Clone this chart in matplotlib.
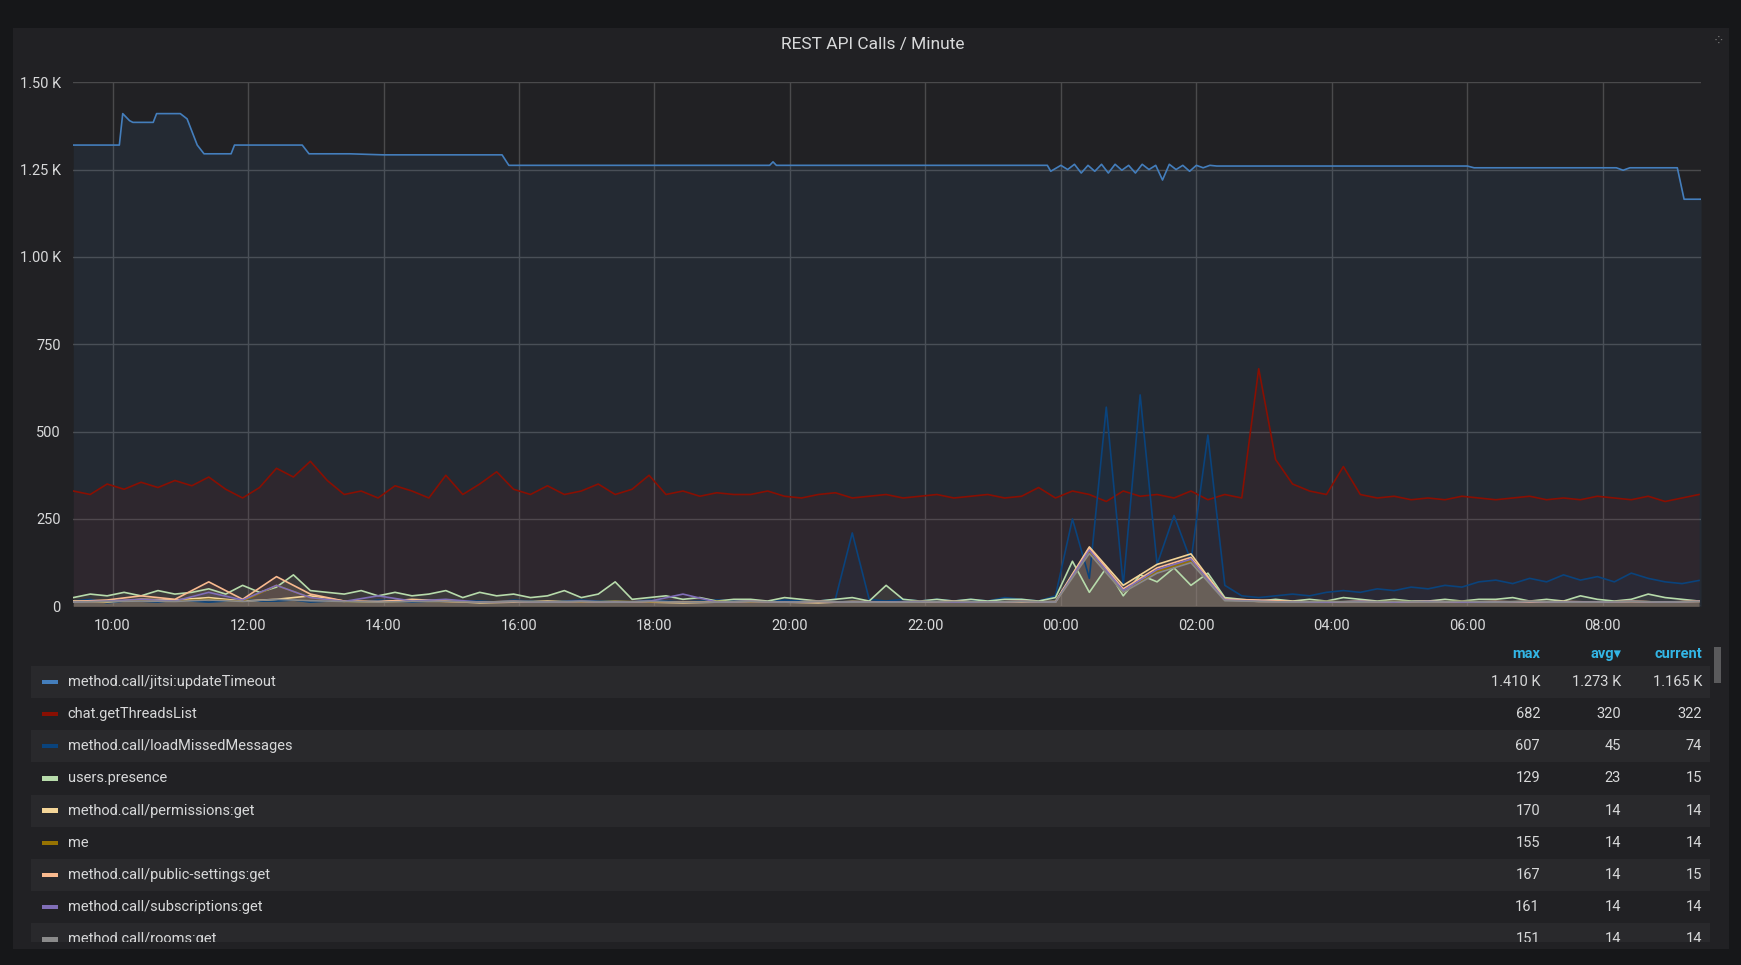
import numpy as np
import matplotlib
matplotlib.use("Agg")
import matplotlib.pyplot as plt
from matplotlib.patches import Rectangle

plt.rcParams['font.family'] = ['Roboto', 'DejaVu Sans']

T0, T1 = 9.42, 33.45

# main series (breakpoint times in hours, values)
jitsi_t = [9.42, 10.1, 10.15, 10.25, 10.3, 10.6, 10.65, 11.0, 11.1, 11.25, 11.35, 11.75, 11.8, 12.8, 12.9, 13.5, 14.0, 15.75, 15.85,
           19.7, 19.75, 19.8, 23.8, 23.85, 24.0, 24.1, 24.2, 24.3, 24.4, 24.5, 24.6, 24.7, 24.8, 24.9, 25.0, 25.1, 25.2, 25.3, 25.4,
           25.5, 25.6, 25.7, 25.8, 25.9, 26.0, 26.1, 26.2, 26.3, 30.0, 30.1, 32.2, 32.3, 32.4, 33.1, 33.2, 33.45]
jitsi_v = [1320, 1320, 1410, 1390, 1385, 1385, 1410, 1410, 1395, 1320, 1295, 1295, 1320, 1320, 1295, 1295, 1292, 1292, 1262,
           1262, 1272, 1262, 1262, 1245, 1262, 1250, 1265, 1240, 1262, 1245, 1265, 1240, 1265, 1248, 1262, 1240, 1265, 1250, 1262,
           1220, 1265, 1250, 1262, 1245, 1262, 1255, 1262, 1260, 1260, 1255, 1255, 1248, 1255, 1255, 1165, 1165]

red = [330, 320, 350, 335, 355, 340, 360, 345, 370, 335, 310, 340, 395, 370, 415, 360,
       320, 330, 310, 345, 330, 310, 375, 320, 350, 385, 335, 320, 345, 320, 330, 350,
       320, 335, 375, 320, 330, 315, 325, 320, 320, 330, 315, 310, 320, 325, 310, 315,
       320, 310, 315, 320, 310, 315, 320, 310, 315, 340, 310, 330, 320, 300, 330, 315,
       320, 310, 330, 305, 320, 310, 680, 420, 350, 330, 320, 400, 320, 310, 315, 305,
       310, 305, 315, 310, 305, 310, 315, 305, 310, 305, 315, 310, 305, 315, 300, 310, 320]

missed = [15, 20, 10, 15, 15, 12, 18, 15, 12, 15, 20, 15, 15, 18, 12, 15,
          15, 12, 18, 15, 12, 15, 18, 15, 15, 12, 18, 15, 12, 15, 18, 15,
          15, 12, 18, 15, 12, 15, 18, 15, 15, 12, 18, 15, 15, 20, 210, 20,
          15, 20, 15, 20, 15, 20, 15, 25, 20, 15, 30, 250, 80, 570, 60, 605,
          120, 260, 130, 490, 60, 30, 25, 30, 35, 30, 40, 45, 40, 50, 45, 55,
          50, 60, 55, 70, 75, 65, 80, 70, 90, 75, 85, 70, 95, 80, 70, 65, 74]

presence = [25, 35, 30, 40, 30, 45, 35, 40, 50, 35, 60, 40, 55, 90, 45, 40,
            35, 45, 30, 40, 30, 35, 45, 25, 40, 30, 35, 25, 30, 45, 25, 35,
            70, 20, 25, 30, 20, 25, 15, 20, 20, 15, 25, 20, 15, 20, 25, 15,
            60, 20, 15, 20, 15, 20, 15, 20, 20, 15, 25, 129, 40, 110, 30, 90,
            70, 110, 60, 95, 25, 20, 15, 20, 15, 20, 15, 25, 20, 15, 20, 15,
            15, 20, 15, 20, 20, 25, 15, 20, 15, 30, 20, 15, 20, 35, 25, 20, 15]

perm = [15, 12, 20, 18, 25, 15, 20, 30, 15, 12, 20, 15, 10, 12, 15, 12, 14, 12, 10, 12, 14, 12, 10, 14, 12,
        12, 14, 12, 12, 14, 170, 60, 120, 150, 20, 14, 12, 12, 14, 12, 14, 12, 12, 14, 12, 12, 14, 12, 14]
me = [12, 14, 18, 15, 20, 14, 60, 25, 14, 12, 15, 14, 12, 14, 12, 12, 14, 12, 12, 14, 12, 12, 14, 12, 12,
      14, 12, 12, 14, 12, 155, 40, 100, 130, 18, 14, 12, 14, 12, 14, 12, 14, 12, 14, 12, 12, 14, 12, 14]
pubset = [14, 18, 30, 20, 70, 20, 85, 35, 15, 14, 18, 14, 12, 14, 12, 14, 12, 14, 12, 12, 14, 12, 14, 12, 12,
          12, 14, 12, 14, 12, 167, 50, 110, 140, 20, 18, 14, 12, 14, 12, 14, 12, 14, 12, 14, 12, 14, 12, 15]
subs = [12, 15, 20, 15, 40, 18, 60, 25, 14, 30, 15, 20, 12, 14, 12, 14, 12, 14, 35, 12, 14, 12, 14, 12, 12,
        14, 12, 12, 14, 12, 161, 45, 105, 135, 18, 14, 12, 12, 14, 12, 14, 12, 12, 14, 12, 12, 14, 12, 14]
rooms = [12, 14, 15, 14, 18, 14, 20, 16, 14, 12, 14, 14, 12, 14, 12, 14, 12, 14, 12, 12, 14, 12, 14, 12, 12,
         12, 14, 12, 14, 12, 151, 40, 95, 125, 16, 14, 12, 14, 12, 14, 12, 14, 12, 14, 12, 12, 14, 12, 14]

names = ["method.call/jitsi:updateTimeout", "chat.getThreadsList", "method.call/loadMissedMessages",
         "users.presence", "method.call/permissions:get", "me", "method.call/public-settings:get",
         "method.call/subscriptions:get", "method.call/rooms:get"]
colors = ["#447EBC", "#890F02", "#0A437C", "#B7DBAB", "#F4D598", "#967302", "#F9BA8F", "#806EB7", "#8a8a8a"]
col_max = ["1.410 K", "682", "607", "129", "170", "155", "167", "161", "151"]
col_avg = ["1.273 K", "320", "45", "23", "14", "14", "14", "14", "14"]
col_cur = ["1.165 K", "322", "74", "15", "14", "14", "15", "14", "14"]
xticks = [10, 12, 14, 16, 18, 20, 22, 24, 26, 28, 30, 32]
xlabels = ["10:00", "12:00", "14:00", "16:00", "18:00", "20:00", "22:00", "00:00", "02:00", "04:00", "06:00", "08:00"]
yticks = [0, 250, 500, 750, 1000, 1250, 1500]
ylabels = ["0", "250", "500", "750", "1.00 K", "1.25 K", "1.50 K"]

W, H = 1568, 869
fig = plt.figure(figsize=(17.41, 9.65), dpi=100)
fig.patch.set_facecolor("#161719")
fx = lambda x: x / W
fy = lambda y: 1 - y / H
fig.patches.append(Rectangle((fx(12), fy(855)), fx(1545), 830 / H, transform=fig.transFigure,
                             facecolor="#212124", edgecolor="none", zorder=0))

ax = fig.add_axes([fx(66), fy(546), fx(1532 - 66), (546 - 74) / H])
ax.set_zorder(5)
ax.set_facecolor("#212124")
for s in ax.spines.values():
    s.set_visible(False)

def grid_t(n):
    return T0 + 24.0 * np.arange(n) / (n - 1)

series = [(jitsi_t, jitsi_v), (grid_t(len(red)), red), (grid_t(len(missed)), missed),
          (grid_t(len(presence)), presence), (grid_t(len(perm)), perm), (grid_t(len(me)), me),
          (grid_t(len(pubset)), pubset), (grid_t(len(subs)), subs), (grid_t(len(rooms)), rooms)]
for i, (t, v) in enumerate(series):
    ax.fill_between(t, 0, v, color=colors[i], alpha=0.1, lw=0, zorder=2)
    ax.plot(t, v, color=colors[i], lw=1.2, zorder=3 + (0 if i < 3 else 1))

ax.set_xlim(T0, T1)
ax.set_ylim(0, 1500)
ax.set_xticks(xticks, xlabels)
ax.set_yticks(yticks, ylabels)
ax.grid(True, color="#4a4a4c", lw=1)
ax.set_axisbelow(True)
ax.tick_params(colors="#d8d9da", labelsize=10.5, length=0, pad=9)

fig.text(fx(786), fy(40), "REST API Calls / Minute", ha="center", va="center", color="#d8d9da", fontsize=12.5)
fig.text(fx(1548), fy(38), "⁘", ha="center", va="center", color="#777777", fontsize=10)

# legend table
hdr_y = 589
for x, lab in [(1387, "max"), (1460, "avg▾"), (1533, "current")]:
    fig.text(fx(x), fy(hdr_y), lab, ha="right", va="center", color="#33b5e5", fontsize=10.5, fontweight="bold",
             family=["Roboto", "DejaVu Sans"])
for k in range(len(names)):
    yc = 614 + 29 * k
    if k % 2 == 0:
        fig.patches.append(Rectangle((fx(28), fy(yc + 14.5)), fx(1512), 29 / H, transform=fig.transFigure,
                                     facecolor="#29292c", edgecolor="none", zorder=1))
    fig.patches.append(Rectangle((fx(38), fy(yc + 2)), fx(14), 4 / H, transform=fig.transFigure,
                                 facecolor=colors[k], edgecolor="none", zorder=2))
    fig.text(fx(61), fy(yc), names[k], ha="left", va="center", color="#d8d9da", fontsize=10.5, zorder=3)
    for x, vals in [(1387, col_max), (1460, col_avg), (1533, col_cur)]:
        fig.text(fx(x), fy(yc), vals[k], ha="right", va="center", color="#d8d9da", fontsize=10.5, zorder=3)
# scrollbar
fig.patches.append(Rectangle((fx(1544), fy(615)), fx(6), 32 / H, transform=fig.transFigure,
                             facecolor="#5a5a5c", edgecolor="none", zorder=3))
# clip bottom of panel
fig.patches.append(Rectangle((fx(12), fy(855)), fx(1545), 7 / H, transform=fig.transFigure,
                             facecolor="#212124", edgecolor="none", zorder=20))
fig.patches.append(Rectangle((0, 0), 1, 14 / H, transform=fig.transFigure,
                             facecolor="#161719", edgecolor="none", zorder=20))

fig.savefig("out.png", dpi=100, facecolor=fig.get_facecolor())
